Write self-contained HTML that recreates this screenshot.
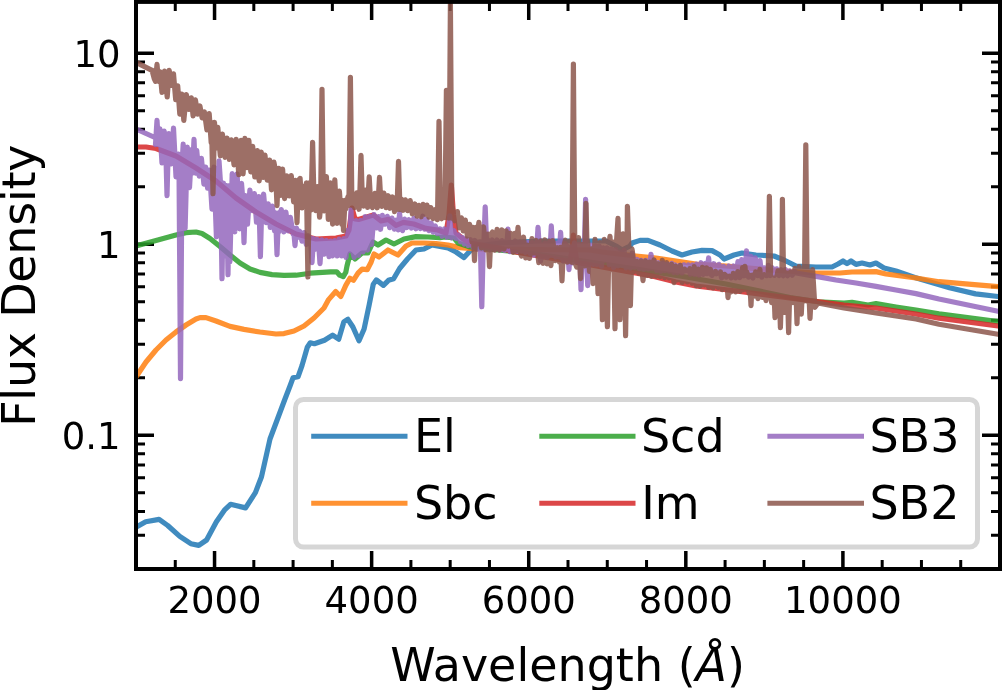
<!DOCTYPE html>
<html><head><meta charset="utf-8"><title>Flux Density</title>
<style>html,body{margin:0;padding:0;background:#fff;overflow:hidden}svg{display:block}.t{font-family:"DejaVu Sans","Liberation Sans",sans-serif;fill:#000}</style>
</head><body>
<svg width="1002" height="690" viewBox="0 0 1002 690" style="display:block">
<rect x="0" y="0" width="1002" height="690" fill="#fff"/>
<defs><clipPath id="ax"><rect x="136.0" y="1.9" width="864.0" height="567.1"/></clipPath></defs>
<g stroke="#000" fill="none">
<path d="M214.55,569.0V551.0M214.55,1.9V19.9" stroke-width="3.5"/>
<path d="M371.64,569.0V551.0M371.64,1.9V19.9" stroke-width="3.5"/>
<path d="M528.73,569.0V551.0M528.73,1.9V19.9" stroke-width="3.5"/>
<path d="M685.82,569.0V551.0M685.82,1.9V19.9" stroke-width="3.5"/>
<path d="M842.91,569.0V551.0M842.91,1.9V19.9" stroke-width="3.5"/>
<path d="M175.27,569.0V560.0M175.27,1.9V10.9" stroke-width="3"/>
<path d="M253.82,569.0V560.0M253.82,1.9V10.9" stroke-width="3"/>
<path d="M293.09,569.0V560.0M293.09,1.9V10.9" stroke-width="3"/>
<path d="M332.36,569.0V560.0M332.36,1.9V10.9" stroke-width="3"/>
<path d="M410.91,569.0V560.0M410.91,1.9V10.9" stroke-width="3"/>
<path d="M450.18,569.0V560.0M450.18,1.9V10.9" stroke-width="3"/>
<path d="M489.45,569.0V560.0M489.45,1.9V10.9" stroke-width="3"/>
<path d="M568.00,569.0V560.0M568.00,1.9V10.9" stroke-width="3"/>
<path d="M607.27,569.0V560.0M607.27,1.9V10.9" stroke-width="3"/>
<path d="M646.55,569.0V560.0M646.55,1.9V10.9" stroke-width="3"/>
<path d="M725.09,569.0V560.0M725.09,1.9V10.9" stroke-width="3"/>
<path d="M764.36,569.0V560.0M764.36,1.9V10.9" stroke-width="3"/>
<path d="M803.64,569.0V560.0M803.64,1.9V10.9" stroke-width="3"/>
<path d="M882.18,569.0V560.0M882.18,1.9V10.9" stroke-width="3"/>
<path d="M921.45,569.0V560.0M921.45,1.9V10.9" stroke-width="3"/>
<path d="M960.73,569.0V560.0M960.73,1.9V10.9" stroke-width="3"/>
<path d="M136.0,53.25H154.0M1000.0,53.25H982.0" stroke-width="3.5"/>
<path d="M136.0,244.30H154.0M1000.0,244.30H982.0" stroke-width="3.5"/>
<path d="M136.0,435.35H154.0M1000.0,435.35H982.0" stroke-width="3.5"/>
<path d="M136.0,568.89H145.0M1000.0,568.89H991.0" stroke-width="3"/>
<path d="M136.0,535.25H145.0M1000.0,535.25H991.0" stroke-width="3"/>
<path d="M136.0,511.38H145.0M1000.0,511.38H991.0" stroke-width="3"/>
<path d="M136.0,492.86H145.0M1000.0,492.86H991.0" stroke-width="3"/>
<path d="M136.0,477.73H145.0M1000.0,477.73H991.0" stroke-width="3"/>
<path d="M136.0,464.94H145.0M1000.0,464.94H991.0" stroke-width="3"/>
<path d="M136.0,453.86H145.0M1000.0,453.86H991.0" stroke-width="3"/>
<path d="M136.0,444.09H145.0M1000.0,444.09H991.0" stroke-width="3"/>
<path d="M136.0,377.84H145.0M1000.0,377.84H991.0" stroke-width="3"/>
<path d="M136.0,344.20H145.0M1000.0,344.20H991.0" stroke-width="3"/>
<path d="M136.0,320.33H145.0M1000.0,320.33H991.0" stroke-width="3"/>
<path d="M136.0,301.81H145.0M1000.0,301.81H991.0" stroke-width="3"/>
<path d="M136.0,286.68H145.0M1000.0,286.68H991.0" stroke-width="3"/>
<path d="M136.0,273.89H145.0M1000.0,273.89H991.0" stroke-width="3"/>
<path d="M136.0,262.81H145.0M1000.0,262.81H991.0" stroke-width="3"/>
<path d="M136.0,253.04H145.0M1000.0,253.04H991.0" stroke-width="3"/>
<path d="M136.0,186.79H145.0M1000.0,186.79H991.0" stroke-width="3"/>
<path d="M136.0,153.15H145.0M1000.0,153.15H991.0" stroke-width="3"/>
<path d="M136.0,129.28H145.0M1000.0,129.28H991.0" stroke-width="3"/>
<path d="M136.0,110.76H145.0M1000.0,110.76H991.0" stroke-width="3"/>
<path d="M136.0,95.63H145.0M1000.0,95.63H991.0" stroke-width="3"/>
<path d="M136.0,82.84H145.0M1000.0,82.84H991.0" stroke-width="3"/>
<path d="M136.0,71.76H145.0M1000.0,71.76H991.0" stroke-width="3"/>
<path d="M136.0,61.99H145.0M1000.0,61.99H991.0" stroke-width="3"/>
</g>
<g clip-path="url(#ax)" fill="none" stroke-width="5.2" stroke-linejoin="round" stroke-linecap="butt" stroke-opacity="0.85">
<path d="M136.0,527.2 L145.7,521.8 L159.1,519.4 L167.7,525.5 L179.8,536.4 L190.8,543.7 L198.8,545.4 L206.6,540.0 L216.4,521.8 L224.9,509.6 L230.5,504.3 L245.6,507.9 L255.4,492.6 L261.5,476.7 L270.0,439.0 L277.3,419.5 L284.6,400.0 L290.0,386.0 L293.0,377.8 L298.0,376.8 L302.0,365.6 L307.3,347.3 L310.3,342.8 L314.4,343.7 L324.5,340.2 L332.6,335.1 L338.7,339.2 L343.8,321.9 L347.9,319.3 L352.9,327.0 L359.0,340.8 L364.1,329.0 L369.2,304.7 L373.2,284.4 L376.3,279.9 L383.4,285.4 L388.5,280.3 L393.6,278.7 L399.6,268.5 L407.5,259.0 L416.0,250.0 L424.0,249.0 L432.0,245.0 L440.0,246.4 L448.0,248.0 L456.0,252.0 L464.0,257.6 L470.0,251.0 L476.0,246.0 L500.0,243.0 L540.0,241.0 L606.0,241.0 L616.0,246.0 L622.0,250.0 L630.0,246.0 L632.0,243.0 L640.0,240.4 L648.0,240.4 L660.0,245.0 L672.0,251.0 L682.0,255.0 L692.0,252.0 L702.0,250.4 L712.0,250.6 L720.0,255.0 L724.0,259.0 L734.0,255.0 L742.0,253.0 L756.0,255.0 L774.0,256.0 L784.0,260.0 L796.0,266.0 L816.0,267.0 L832.0,267.0 L838.0,264.0 L843.0,261.0 L847.0,263.6 L851.0,261.0 L856.0,264.4 L862.0,263.0 L870.0,265.0 L876.0,263.0 L884.0,268.0 L896.0,271.0 L914.8,277.4 L949.5,287.8 L975.6,293.9 L998.0,296.5 L1002.0,296.9" stroke="#1f77b4"/>
<path d="M136.0,377.0 L146.0,362.0 L156.0,350.0 L166.0,340.0 L176.0,332.0 L186.0,325.0 L196.0,319.0 L200.0,317.6 L206.0,317.6 L216.0,321.0 L230.0,326.4 L244.0,329.4 L260.0,332.0 L276.0,334.0 L284.0,333.6 L294.0,331.0 L304.0,326.0 L314.0,318.0 L324.0,308.0 L328.6,299.6 L335.7,291.5 L340.8,296.5 L345.8,285.4 L349.9,278.3 L353.4,280.3 L358.0,273.2 L362.1,269.1 L367.2,269.7 L371.2,262.0 L374.0,254.0 L379.0,257.0 L388.0,250.0 L398.0,255.0 L406.0,246.0 L412.0,243.0 L424.0,243.0 L436.0,243.6 L448.0,245.0 L460.0,247.6 L476.0,249.0 L536.0,249.5 L590.0,250.0 L602.0,252.0 L636.0,256.0 L656.0,258.0 L676.0,261.0 L696.0,264.0 L726.0,266.0 L770.0,270.0 L816.0,273.0 L840.0,273.0 L852.0,272.0 L876.0,271.6 L886.0,274.0 L916.0,278.0 L939.0,281.7 L998.0,286.6 L1002.0,287.0" stroke="#ff7f0e"/>
<path d="M136.0,246.0 L156.0,240.5 L176.0,235.0 L186.0,232.7 L196.0,232.0 L202.0,233.5 L210.0,238.5 L220.0,246.5 L230.0,255.0 L240.0,263.0 L250.0,269.0 L260.0,272.4 L272.0,274.6 L284.0,275.4 L296.0,275.2 L310.3,273.2 L330.6,271.8 L336.7,271.8 L339.7,275.2 L343.2,276.6 L345.8,272.2 L347.0,266.0 L350.0,254.0 L355.0,259.0 L362.0,253.0 L368.0,253.0 L373.0,242.0 L378.0,245.0 L386.0,240.0 L394.0,244.0 L404.0,239.0 L416.0,236.6 L428.0,237.0 L440.0,237.6 L445.0,237.0 L454.0,238.0 L458.0,243.0 L468.0,246.4 L476.0,247.6 L536.0,254.0 L636.0,269.0 L686.0,277.0 L726.0,284.0 L790.0,297.5 L818.0,301.8 L844.0,303.0 L852.0,302.4 L868.0,305.0 L876.0,303.6 L896.0,307.0 L916.0,310.0 L939.0,313.9 L998.0,321.7 L1002.0,322.2" stroke="#2ca02c"/>
<path d="M136.0,147.0 L146.0,147.0 L156.0,148.5 L176.0,156.0 L196.0,168.0 L216.0,181.0 L236.0,198.0 L256.0,212.0 L276.0,224.0 L296.0,234.0 L316.0,239.0 L336.0,238.0 L346.0,236.0 L349.0,230.0 L352.0,208.0 L355.0,219.0 L358.5,219.4 L373.4,215.0 L381.0,221.0 L388.4,219.4 L396.0,225.4 L403.4,222.4 L413.8,224.0 L425.8,228.4 L437.8,230.0 L446.0,233.0 L449.0,215.0 L451.3,185.0 L453.5,215.0 L456.0,233.0 L463.2,239.0 L470.7,243.4 L500.0,248.0 L510.0,251.0 L570.0,261.5 L572.0,250.0 L573.4,235.0 L575.0,250.0 L577.0,262.5 L652.0,276.0 L676.0,282.0 L696.0,286.0 L736.0,291.0 L844.0,305.0 L876.0,308.0 L916.0,314.0 L939.0,318.2 L998.0,326.0 L1002.0,326.5" stroke="#d62728"/>
<path d="M136.0,129.0 L146.0,133.5 L156.0,138.0 L155.5,144.6 L157.0,120.4 L158.5,144.6 L159.9,128.8 L162.0,163.0 L164.1,131.1 L165.5,138.2 L167.0,195.6 L168.5,138.2 L168.9,133.6 L171.3,163.9 L173.5,128.2 L176.0,176.9 L178.5,154.0 L179.0,165.3 L180.5,378.6 L182.0,165.3 L183.2,144.2 L185.1,228.4 L187.3,147.2 L189.5,187.6 L191.7,149.6 L192.5,173.1 L194.0,139.4 L195.5,173.1 L196.7,150.3 L199.2,176.1 L201.4,158.3 L203.9,184.1 L205.7,167.2 L207.6,188.2 L209.5,170.2 L212.0,209.1 L213.9,167.0 L216.4,236.8 L219.0,160.8 L220.5,183.0 L222.0,278.6 L223.5,183.0 L225.2,256.0 L226.5,185.5 L228.0,274.6 L229.5,185.5 L229.9,261.6 L232.2,173.7 L234.8,231.9 L237.1,173.9 L239.7,228.9 L241.5,183.3 L242.5,195.7 L244.0,242.6 L245.5,195.7 L247.5,224.2 L249.9,190.0 L252.3,210.7 L254.4,193.6 L256.5,222.2 L258.8,196.5 L258.9,201.2 L260.4,256.6 L261.9,201.2 L263.6,194.2 L266.1,222.6 L268.2,203.8 L270.3,227.5 L272.4,206.1 L274.5,230.9 L275.5,212.8 L277.0,254.6 L278.5,212.8 L278.9,231.7 L281.3,209.6 L283.8,232.0 L285.9,212.1 L288.3,231.0 L290.4,217.4 L293.0,233.9 L293.5,228.2 L295.0,245.6 L296.5,228.2 L297.7,237.5 L299.6,231.2 L302.0,241.2 L304.1,232.6 L306.3,244.5 L308.2,235.7 L310.5,238.7 L312.0,262.6 L313.5,238.7 L314.9,249.3 L317.1,239.5 L318.5,241.2 L320.0,263.6 L321.5,241.2 L321.9,239.9 L324.0,254.2 L326.4,240.6 L329.0,256.7 L330.8,241.2 L332.6,255.9 L334.8,240.6 L337.3,256.0 L339.2,239.0 L341.7,255.9 L343.9,238.7 L346.0,257.4 L348.1,230.1 L349.5,250.6 L351.0,209.4 L352.5,250.6 L354.2,257.4 L356.3,220.5 L358.5,255.3 L360.8,220.4 L363.0,252.0 L365.3,216.5 L367.5,250.2 L369.6,216.4 L371.6,244.5 L374.0,214.6 L376.5,227.9 L378.7,216.6 L380.5,229.3 L382.4,215.4 L384.9,224.2 L387.3,216.3 L389.7,227.6 L392.0,218.1 L394.4,229.2 L396.3,220.2 L398.1,229.9 L398.1,228.3 L399.6,213.4 L401.1,228.3 L402.6,230.6 L404.7,219.1 L406.8,227.5 L409.0,219.7 L411.4,228.1 L413.8,218.3 L415.9,228.8 L417.9,220.7 L420.4,228.5 L422.8,216.2 L424.7,229.1 L426.7,219.5 L428.8,230.6 L431.2,223.2 L433.2,232.2 L435.3,226.0 L437.4,233.7 L440.0,228.9 L442.1,236.3 L444.4,229.0 L446.9,237.1 L448.3,236.0 L449.8,215.8 L451.3,236.0 L451.4,237.9 L454.0,230.8 L456.0,238.4 L458.3,234.9 L460.3,241.6 L462.5,237.5 L464.3,244.0 L466.4,239.0 L468.2,245.6 L470.4,239.6 L473.0,247.5 L474.9,240.4 L476.8,249.2 L478.6,242.1 L480.3,241.9 L481.8,306.6 L483.3,241.9 L483.4,240.9 L483.7,247.8 L485.2,206.8 L486.7,247.8 L487.7,239.9 L489.9,250.0 L492.3,240.0 L494.6,249.6 L497.1,239.9 L499.7,250.2 L502.0,240.6 L504.4,250.4 L506.3,241.0 L506.5,249.2 L508.0,229.1 L508.5,242.6 L510.0,251.6 L511.5,242.6 L513.3,251.2 L515.3,241.0 L517.3,251.4 L519.8,242.1 L521.7,251.2 L523.5,242.2 L525.5,252.5 L527.9,242.6 L530.2,253.5 L532.1,242.6 L534.1,255.1 L535.9,243.4 L536.5,253.2 L538.0,227.4 L539.1,244.9 L540.6,261.1 L542.1,244.9 L543.1,257.2 L545.3,243.2 L547.1,257.6 L549.3,242.6 L549.8,255.5 L551.3,225.9 L552.8,255.5 L553.4,242.6 L555.7,257.1 L557.6,243.2 L559.1,257.1 L560.6,232.4 L562.1,257.1 L563.3,261.1 L565.2,243.7 L567.5,246.8 L569.0,269.6 L570.5,246.8 L572.4,262.9 L574.5,242.8 L576.4,261.8 L578.6,244.7 L579.5,248.0 L581.0,289.6 L582.5,248.0 L582.9,244.6 L584.1,261.1 L585.6,199.4 L586.2,248.9 L587.7,285.6 L589.2,248.9 L589.2,263.4 L591.2,245.2 L593.4,264.3 L595.3,245.9 L597.1,264.4 L599.3,246.1 L601.5,266.2 L603.3,247.9 L605.1,260.2 L607.0,247.8 L609.3,265.0 L611.1,248.8 L613.6,267.4 L615.6,249.5 L618.1,266.0 L619.9,252.0 L622.2,265.4 L624.1,250.3 L625.9,267.8 L627.9,255.5 L630.3,268.1 L632.2,253.2 L634.7,267.1 L637.2,259.4 L639.3,268.6 L641.2,260.4 L643.7,269.1 L645.8,260.3 L648.2,268.8 L649.5,268.1 L651.0,254.4 L652.5,268.1 L654.4,261.1 L656.6,270.4 L658.5,262.7 L660.8,271.2 L662.9,263.1 L665.0,270.6 L667.1,264.2 L669.4,271.2 L671.7,263.3 L673.6,272.4 L675.4,265.0 L677.4,272.7 L679.8,265.3 L682.1,272.9 L683.9,264.9 L685.7,270.9 L688.3,264.9 L690.2,274.3 L692.6,265.0 L694.6,274.4 L696.5,264.1 L699.0,275.0 L701.1,262.7 L703.2,274.4 L705.5,263.3 L707.1,273.6 L708.6,257.9 L710.1,273.6 L712.0,275.5 L713.9,263.7 L716.4,273.8 L719.0,264.3 L721.5,277.9 L723.7,266.3 L726.3,277.2 L728.9,266.0 L731.2,278.0 L733.6,266.0 L735.6,277.9 L738.0,261.5 L739.9,277.6 L741.7,259.6 L744.1,275.8 L745.0,274.0 L746.5,250.9 L748.0,274.0 L748.6,277.2 L750.9,256.4 L752.9,278.1 L755.3,257.9 L757.8,275.6 L760.0,260.5 L761.8,277.1 L764.0,267.8 L766.6,275.7 L768.4,265.3 L770.3,275.5 L772.3,267.7 L774.4,275.4 L776.6,268.8 L779.1,275.5 L781.0,269.6 L783.2,275.7 L785.3,269.5 L787.6,275.8 L789.7,271.0 L792.2,275.2 L794.4,271.2 L796.0,273.0 L816.0,276.4 L836.0,280.0 L856.0,283.0 L876.0,286.4 L896.0,290.0 L916.0,293.6 L939.0,299.0 L998.0,311.3 L1002.0,312.1" stroke="#9467bd"/>
<path d="M136.0,62.4 L152.0,70.3 L152.0,70.0 L154.3,78.9 L155.5,81.3 L157.0,64.4 L158.5,81.3 L160.1,71.9 L162.0,92.4 L164.6,71.0 L167.2,97.0 L169.2,70.4 L171.2,85.3 L173.5,73.8 L175.7,99.7 L177.7,85.8 L179.8,114.1 L181.8,94.2 L183.8,120.4 L186.3,94.5 L188.9,109.4 L191.3,97.8 L193.1,115.9 L195.4,99.9 L197.7,114.2 L199.9,105.9 L202.1,117.9 L204.4,112.0 L206.9,130.0 L209.2,113.6 L211.2,142.9 L211.5,122.4 L213.0,193.6 L214.5,122.4 L215.7,148.3 L217.8,127.4 L220.3,155.8 L222.4,134.0 L225.0,157.3 L227.0,138.0 L229.3,159.5 L231.4,139.9 L234.0,164.8 L236.2,139.3 L238.8,174.7 L241.2,140.3 L243.1,173.8 L244.9,138.3 L247.0,167.6 L248.9,140.3 L250.8,171.9 L252.7,146.4 L254.8,177.0 L257.4,150.7 L259.2,180.9 L261.2,152.0 L263.1,177.5 L265.0,155.2 L267.2,180.1 L269.6,160.2 L271.5,189.8 L273.9,162.1 L275.5,170.8 L277.0,205.6 L278.5,170.8 L278.8,168.4 L280.8,195.4 L282.6,169.2 L284.6,198.6 L286.8,175.8 L289.3,196.0 L291.3,175.7 L293.6,201.8 L295.5,180.4 L297.0,222.6 L298.5,180.4 L300.1,178.4 L302.0,208.0 L304.5,186.2 L305.5,207.1 L306.4,182.8 L307.9,276.9 L309.4,182.8 L311.1,210.1 L311.1,204.0 L312.6,142.4 L314.1,204.0 L315.6,210.5 L317.4,186.6 L319.6,217.2 L320.5,208.0 L322.0,89.4 L323.5,208.0 L324.1,210.9 L326.4,176.7 L328.3,219.5 L330.5,182.8 L332.6,224.2 L334.8,179.9 L337.0,223.4 L339.4,191.1 L341.8,224.4 L342.0,200.4 L343.5,230.6 L345.0,200.4 L345.9,208.7 L347.9,196.9 L348.9,205.3 L350.4,77.4 L351.9,205.3 L352.3,193.9 L354.5,207.6 L356.8,192.9 L359.1,209.3 L359.5,204.8 L361.0,155.4 L362.5,204.8 L363.6,206.1 L365.8,190.1 L367.6,207.4 L367.7,204.0 L369.2,176.9 L370.7,204.0 L372.5,207.6 L375.0,193.4 L377.2,207.8 L378.0,204.4 L379.5,177.4 L381.0,204.4 L381.8,206.4 L383.9,193.1 L386.1,207.7 L388.2,195.7 L390.1,208.3 L392.6,197.0 L394.5,211.6 L396.4,199.1 L397.0,209.5 L398.5,161.4 L400.0,209.5 L401.4,199.1 L403.2,210.3 L405.4,199.8 L407.7,210.6 L410.2,200.6 L412.3,213.8 L414.9,203.9 L417.1,216.1 L419.0,205.4 L421.1,216.8 L423.1,204.4 L425.2,214.3 L427.0,205.1 L428.9,217.1 L430.8,207.6 L433.0,218.6 L435.2,209.6 L437.3,219.7 L437.5,217.4 L439.0,121.4 L440.5,217.4 L441.5,218.7 L443.8,205.0 L444.9,217.6 L446.4,90.4 L447.9,217.6 L448.0,205.1 L448.9,218.1 L450.4,3.9 L451.9,218.1 L452.2,206.9 L454.8,220.8 L457.4,211.6 L459.2,227.9 L461.4,217.8 L463.2,230.9 L465.3,220.1 L467.4,236.1 L469.6,224.3 L472.0,242.0 L473.0,227.3 L474.5,260.6 L476.0,227.3 L476.4,244.4 L478.9,222.4 L481.3,247.8 L483.5,226.8 L485.9,249.9 L488.0,234.1 L489.5,266.6 L491.0,234.1 L492.5,232.0 L494.7,250.2 L497.1,229.4 L499.5,250.0 L501.8,229.8 L504.1,249.0 L506.2,230.9 L508.6,246.2 L510.7,233.2 L513.1,252.3 L514.9,233.4 L516.5,250.8 L518.0,227.4 L519.5,250.8 L521.5,256.0 L523.5,237.0 L525.7,257.9 L527.6,245.2 L529.5,258.4 L532.0,238.6 L534.0,252.9 L536.3,240.5 L538.8,262.6 L541.0,240.9 L543.0,263.3 L544.8,239.8 L547.0,263.8 L549.1,241.0 L550.9,265.6 L552.8,240.5 L555.3,260.7 L557.4,247.7 L559.5,262.0 L560.5,247.4 L562.0,281.0 L563.5,247.4 L565.4,240.2 L567.5,262.2 L569.9,241.1 L571.9,262.3 L573.4,64.0 L574.9,262.3 L576.7,267.1 L578.6,237.6 L579.0,244.6 L580.5,278.6 L582.0,244.6 L583.1,244.6 L584.5,265.9 L586.0,203.4 L587.5,265.9 L587.6,240.9 L589.5,271.5 L591.5,248.9 L593.0,283.6 L594.5,248.9 L595.0,239.4 L596.5,249.4 L598.0,293.6 L599.5,249.4 L600.0,242.5 L600.9,247.6 L602.4,319.6 L603.9,247.6 L604.2,239.4 L605.9,245.4 L607.4,326.6 L608.9,245.4 L610.0,236.4 L611.5,269.6 L613.3,249.7 L613.5,242.0 L615.0,328.6 L616.5,242.0 L618.0,218.4 L618.5,240.0 L620.0,319.6 L621.5,240.0 L623.0,233.8 L624.1,239.2 L625.6,335.6 L627.1,239.2 L627.4,206.4 L628.9,248.9 L630.4,305.6 L631.9,248.9 L632.4,251.2 L634.3,271.3 L636.8,261.3 L638.7,273.1 L641.1,261.0 L641.5,263.9 L643.0,280.6 L644.5,263.9 L645.3,261.0 L647.3,275.5 L649.6,262.1 L651.6,276.4 L654.0,259.9 L656.2,276.1 L658.2,263.7 L660.2,276.6 L662.3,260.3 L664.7,277.7 L666.7,262.6 L669.2,277.9 L671.6,264.3 L672.5,266.9 L674.0,282.6 L675.5,266.9 L675.9,266.2 L677.8,279.8 L680.4,265.4 L682.2,282.4 L684.7,269.1 L687.3,281.9 L689.8,268.6 L692.2,283.3 L694.2,266.7 L696.3,285.6 L698.2,269.0 L700.2,286.1 L702.4,267.3 L704.5,284.9 L706.6,267.8 L708.7,287.2 L710.5,269.4 L713.1,287.9 L715.6,271.4 L718.2,287.4 L720.5,271.9 L722.3,289.7 L724.6,274.4 L726.5,276.1 L728.0,297.6 L729.5,276.1 L731.3,291.8 L733.3,273.3 L735.7,291.9 L737.8,271.6 L740.2,291.5 L742.6,267.6 L743.5,289.7 L745.0,266.4 L746.5,289.7 L747.0,272.4 L749.1,293.2 L749.5,275.2 L751.0,305.6 L752.5,275.2 L753.2,296.4 L755.6,271.9 L757.9,298.6 L759.9,269.4 L762.3,297.3 L764.3,274.7 L764.5,277.5 L766.0,300.6 L767.5,277.5 L767.9,295.3 L769.4,196.4 L770.9,295.3 L771.6,302.6 L773.5,278.1 L775.0,317.6 L776.5,278.1 L778.0,270.8 L778.9,278.7 L780.4,327.6 L781.9,278.7 L782.4,199.4 L783.9,303.3 L784.7,312.5 L786.6,272.8 L787.1,278.0 L788.6,332.6 L790.1,278.0 L790.5,272.1 L792.9,302.6 L794.9,268.4 L795.5,275.7 L797.0,323.6 L798.5,275.7 L799.2,266.6 L801.3,314.1 L803.2,270.7 L804.3,300.9 L805.8,144.8 L807.3,300.9 L807.9,270.4 L810.0,318.5 L812.6,269.7 L814.9,307.3 L818.0,303.0 L844.0,308.0 L876.0,313.0 L916.0,319.0 L939.0,324.3 L998.0,334.2 L1002.0,334.9" stroke="#8c564b"/>
</g>
<rect x="295.5" y="399.5" width="682" height="147.5" rx="8" ry="8" fill="#fff" fill-opacity="0.8" stroke="#cccccc" stroke-opacity="0.8" stroke-width="5"/>
<path d="M311.2,436.2H407.5" stroke="#1f77b4" stroke-opacity="0.85" stroke-width="5" fill="none"/>
<text x="413.9" y="451.80" font-size="46" class="t">El</text>
<path d="M311.2,503.2H407.5" stroke="#ff7f0e" stroke-opacity="0.85" stroke-width="5" fill="none"/>
<text x="413.9" y="518.80" font-size="46" class="t">Sbc</text>
<path d="M539.3,436.2H635.5" stroke="#2ca02c" stroke-opacity="0.85" stroke-width="5" fill="none"/>
<text x="640.9" y="451.80" font-size="46" class="t">Scd</text>
<path d="M539.3,503.2H635.5" stroke="#d62728" stroke-opacity="0.85" stroke-width="5" fill="none"/>
<text x="641.2" y="518.80" font-size="46" class="t">Im</text>
<path d="M767.4,436.2H864" stroke="#9467bd" stroke-opacity="0.85" stroke-width="5" fill="none"/>
<text x="869.4" y="451.80" font-size="46" class="t">SB3</text>
<path d="M767.4,503.2H864" stroke="#8c564b" stroke-opacity="0.85" stroke-width="5" fill="none"/>
<text x="869.4" y="518.80" font-size="46" class="t">SB2</text>
<rect x="136.0" y="1.9" width="864.0" height="567.1" fill="none" stroke="#000" stroke-width="4"/>
<text x="214.55" y="613.4" font-size="37" text-anchor="middle" class="t">2000</text>
<text x="371.64" y="613.4" font-size="37" text-anchor="middle" class="t">4000</text>
<text x="528.73" y="613.4" font-size="37" text-anchor="middle" class="t">6000</text>
<text x="685.82" y="613.4" font-size="37" text-anchor="middle" class="t">8000</text>
<text x="842.91" y="613.4" font-size="37" text-anchor="middle" class="t">10000</text>
<text x="120.6" y="67.15" font-size="37" text-anchor="end" class="t">10</text>
<text x="120.6" y="258.20" font-size="37" text-anchor="end" class="t">1</text>
<text x="120.6" y="449.25" font-size="37" text-anchor="end" class="t">0.1</text>
<text x="567.6" y="680.6" font-size="46" text-anchor="middle" class="t">Wavelength (<tspan font-style="italic">Å</tspan>)</text>
<text transform="translate(34.9,285.8) rotate(-90)" font-size="46" text-anchor="middle" letter-spacing="-0.25" class="t">Flux Density</text>
</svg>
</body></html>
